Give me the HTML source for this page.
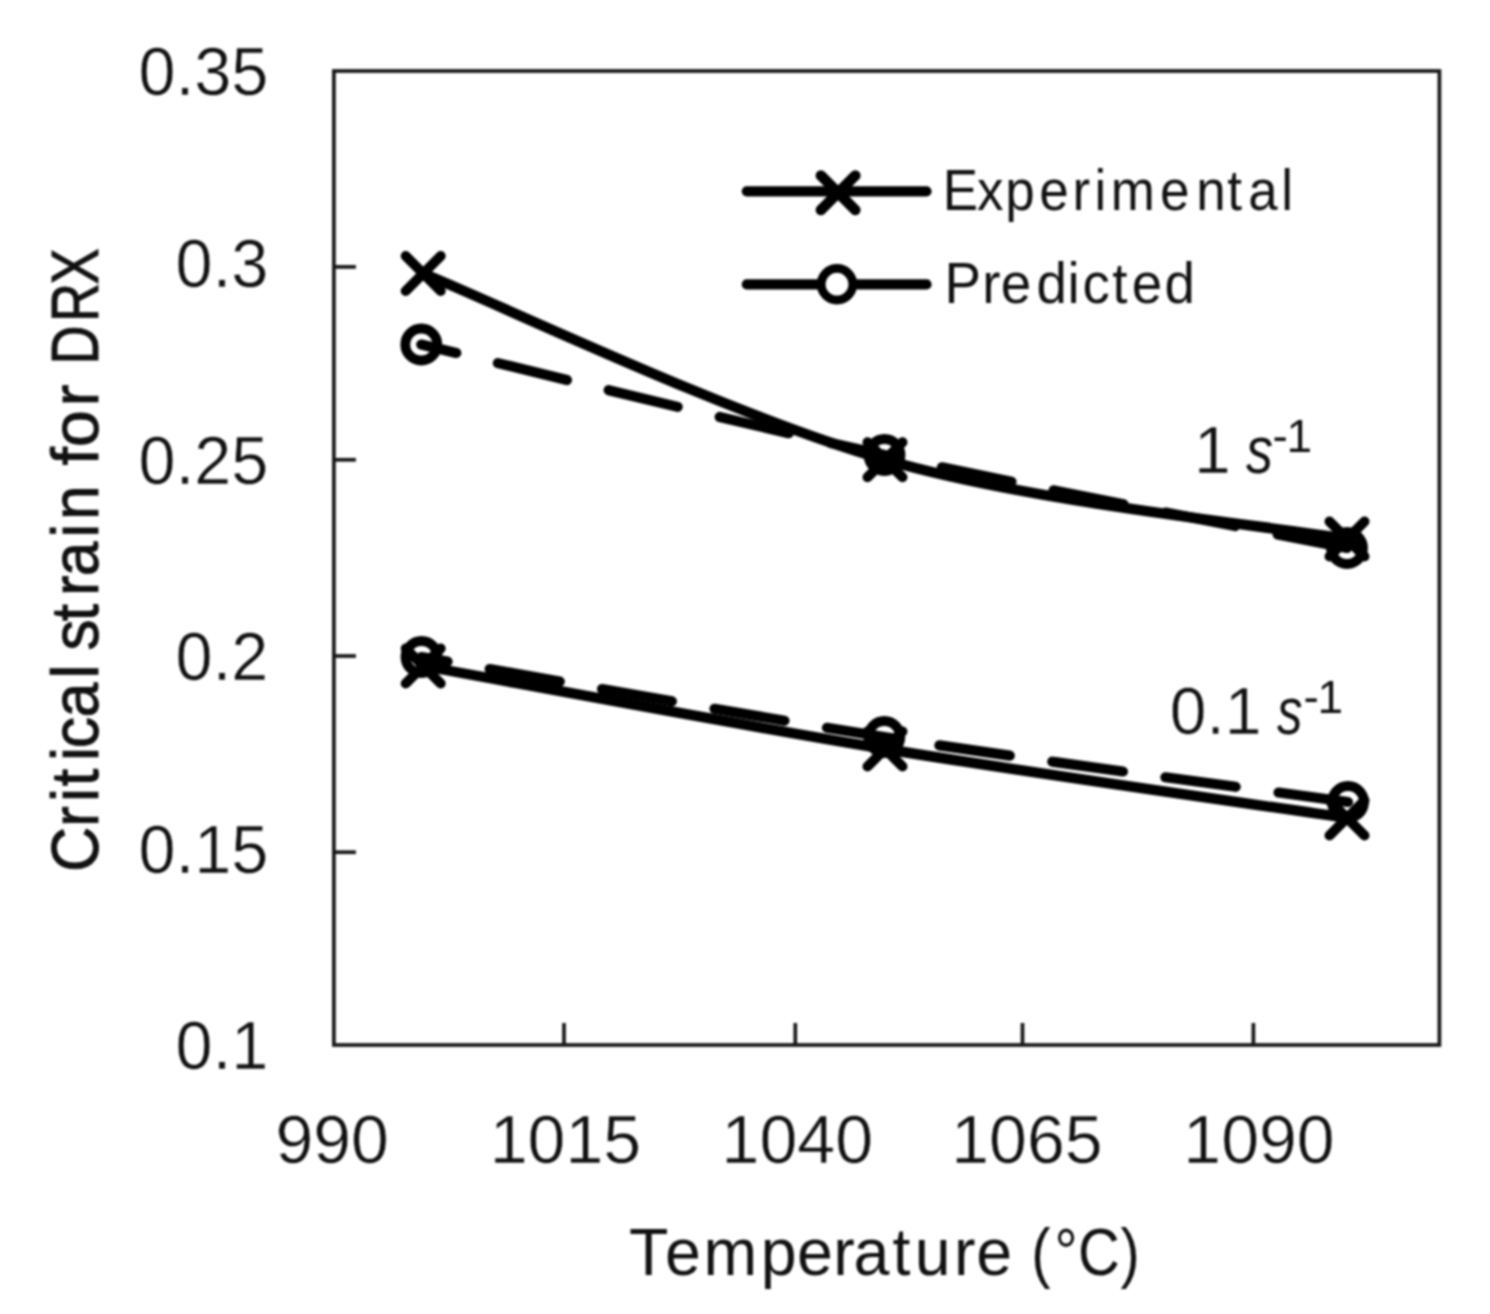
<!DOCTYPE html>
<html lang="en"><head><meta charset="utf-8"><title>Critical strain for DRX</title>
<style>html,body{margin:0;padding:0;background:#fff;overflow:hidden}svg{display:block;filter:blur(0.9px)}</style></head>
<body>
<svg width="1490" height="1314" viewBox="0 0 1490 1314">
<rect width="1490" height="1314" fill="#fff"/>
<g stroke="#161616" stroke-width="3.7" fill="none">
<rect x="333.9" y="71.0" width="1105.5" height="974.0"/>
<line x1="333.9" y1="266.9" x2="355.9" y2="266.9"/>
<line x1="333.9" y1="459.8" x2="355.9" y2="459.8"/>
<line x1="333.9" y1="656.0" x2="355.9" y2="656.0"/>
<line x1="333.9" y1="852.2" x2="355.9" y2="852.2"/>
<line x1="564.0" y1="1045.0" x2="564.0" y2="1023.0"/>
<line x1="795.3" y1="1045.0" x2="795.3" y2="1023.0"/>
<line x1="1022.5" y1="1045.0" x2="1022.5" y2="1023.0"/>
<line x1="1253.4" y1="1045.0" x2="1253.4" y2="1023.0"/>
</g>
<g stroke="#000" fill="none" stroke-width="10.4">
<path d="M423.2 273.5 C500.2 304.6 731.0 415.6 885.0 459.8 C1039.0 504.1 1270.0 525.8 1347.0 539.0"/>
<path d="M423.2 666.0 C500.2 679.8 731.0 723.7 885.0 749.0 C1039.0 774.3 1270.0 806.5 1347.0 818.0"/>
<path d="M421.3 344.5 C498.5 362.9 730.2 421.1 884.5 455.0 C1038.8 488.9 1269.9 532.5 1347.0 548.0" stroke-width="10.2" stroke-linecap="round" stroke-dasharray="71 43" stroke-dashoffset="35.0"/>
<path d="M421.5 657.0 C498.6 670.3 729.9 712.8 884.3 737.0 C1038.7 761.2 1270.7 791.2 1348.0 802.0" stroke-width="10.2" stroke-linecap="round" stroke-dasharray="71 43" stroke-dashoffset="44.5"/>
</g>
<path d="M405.7 256.0 L440.7 291.0 M405.7 291.0 L440.7 256.0" stroke="#000" stroke-width="10.0" stroke-linecap="round" fill="none"/>
<path d="M867.5 442.3 L902.5 477.3 M867.5 477.3 L902.5 442.3" stroke="#000" stroke-width="10.0" stroke-linecap="round" fill="none"/>
<path d="M1329.5 521.5 L1364.5 556.5 M1329.5 556.5 L1364.5 521.5" stroke="#000" stroke-width="10.0" stroke-linecap="round" fill="none"/>
<path d="M405.7 648.5 L440.7 683.5 M405.7 683.5 L440.7 648.5" stroke="#000" stroke-width="10.0" stroke-linecap="round" fill="none"/>
<path d="M867.5 731.5 L902.5 766.5 M867.5 766.5 L902.5 731.5" stroke="#000" stroke-width="10.0" stroke-linecap="round" fill="none"/>
<path d="M1329.5 800.5 L1364.5 835.5 M1329.5 835.5 L1364.5 800.5" stroke="#000" stroke-width="10.0" stroke-linecap="round" fill="none"/>
<circle cx="421.3" cy="344.5" r="16.0" stroke="#000" stroke-width="9.8" fill="none"/>
<circle cx="884.5" cy="455.0" r="16.0" stroke="#000" stroke-width="9.8" fill="none"/>
<circle cx="1347.0" cy="548.0" r="16.0" stroke="#000" stroke-width="9.8" fill="none"/>
<circle cx="421.5" cy="657.0" r="16.0" stroke="#000" stroke-width="9.8" fill="none"/>
<circle cx="884.3" cy="737.0" r="16.0" stroke="#000" stroke-width="9.8" fill="none"/>
<circle cx="1348.0" cy="802.0" r="16.0" stroke="#000" stroke-width="9.8" fill="none"/>
<g stroke="#000" stroke-width="10.2" stroke-linecap="round"><line x1="746.8" y1="191.3" x2="926.5" y2="191.3"/><line x1="746.8" y1="284.4" x2="926.5" y2="284.4"/></g>
<path d="M820.9 175.6 L855.3 210.0 M820.9 210.0 L855.3 175.6" stroke="#000" stroke-width="10.6" stroke-linecap="round" fill="none"/>
<circle cx="837.0" cy="284.2" r="15.8" stroke="#000" stroke-width="8.8" fill="#fff"/>
<g font-family="'Liberation Sans', sans-serif" fill="#111">
<text x="268.2" y="94.7" font-size="67.6" text-anchor="end" textLength="129.6" lengthAdjust="spacingAndGlyphs" stroke="#fff" stroke-width="0.6">0.35</text>
<text x="268.2" y="287.1" font-size="67.6" text-anchor="end" textLength="92.6" lengthAdjust="spacingAndGlyphs" stroke="#fff" stroke-width="0.6">0.3</text>
<text x="268.2" y="483.5" font-size="67.6" text-anchor="end" textLength="129.6" lengthAdjust="spacingAndGlyphs" stroke="#fff" stroke-width="0.6">0.25</text>
<text x="268.2" y="679.5" font-size="67.6" text-anchor="end" textLength="92.6" lengthAdjust="spacingAndGlyphs" stroke="#fff" stroke-width="0.6">0.2</text>
<text x="268.2" y="872.8" font-size="67.6" text-anchor="end" textLength="129.6" lengthAdjust="spacingAndGlyphs" stroke="#fff" stroke-width="0.6">0.15</text>
<text x="268.2" y="1068.8" font-size="67.6" text-anchor="end" textLength="92.6" lengthAdjust="spacingAndGlyphs" stroke="#fff" stroke-width="0.6">0.1</text>
<text x="332.2" y="1162.9" font-size="69.3" text-anchor="middle" textLength="113.5" lengthAdjust="spacingAndGlyphs" stroke="#fff" stroke-width="0.6">990</text>
<text x="565.4" y="1162.9" font-size="69.3" text-anchor="middle" textLength="151.4" lengthAdjust="spacingAndGlyphs" stroke="#fff" stroke-width="0.6">1015</text>
<text x="797.3" y="1162.9" font-size="69.3" text-anchor="middle" textLength="151.4" lengthAdjust="spacingAndGlyphs" stroke="#fff" stroke-width="0.6">1040</text>
<text x="1026.9" y="1162.9" font-size="69.3" text-anchor="middle" textLength="151.4" lengthAdjust="spacingAndGlyphs" stroke="#fff" stroke-width="0.6">1065</text>
<text x="1259.0" y="1162.9" font-size="69.3" text-anchor="middle" textLength="151.4" lengthAdjust="spacingAndGlyphs" stroke="#fff" stroke-width="0.6">1090</text>
<text x="648.4 685.6 725.3 784.2 821.7 858.9 879.9 920.0 943.0 983.6 1006.5" y="1274.9" font-size="66.5" transform="scale(0.970 1)">Temperature</text>
<text x="1185.4 1212.1 1239.2 1288.0" y="1274.9" font-size="66.5" transform="scale(0.870 1)">(°C)</text>
<g transform="translate(98.3 900.0) rotate(-90)" stroke="#111" stroke-width="0.9">
<text x="29.5 76.8 103.2 119.7 146.3 159.8 192.0 233.2" y="0.0" font-size="66.0" transform="scale(0.950 1)">Critical</text>
<text x="265.4 296.5 323.4 344.5 385.7 404.2" y="0.0" font-size="66.0" transform="scale(0.940 1)">strain</text>
<text x="434.4 452.9 493.6" y="0.0" font-size="66.0">for</text>
<text x="653.2 704.9 750.6" y="0.0" font-size="66.0" transform="scale(0.820 1)">DRX</text>
</g>
<text x="1013.8 1050.5 1080.8 1117.4 1153.2 1176.9 1194.3 1247.3 1286.3 1319.7 1342.1 1377.7" y="209.6" font-size="57.0" transform="scale(0.930 1)">Experimental</text>
<text x="983.9 1023.2 1042.4 1079.8 1111.9 1127.6 1158.7 1178.8 1213.0" y="302.6" font-size="57.0" transform="scale(0.960 1)">Predicted</text>
<text x="1194.0" y="472.6" font-size="66.0" stroke="#fff" stroke-width="0.6">1</text>
<text x="1246.0" y="472.6" font-size="66.0" font-style="italic" textLength="27" lengthAdjust="spacingAndGlyphs">s</text>
<text x="1272.5" y="452.0" font-size="46.0">-</text>
<text x="1286.5" y="452.0" font-size="46.0">1</text>
<text x="1169.8" y="734.0" font-size="66.0" stroke="#fff" stroke-width="0.6">0.1</text>
<text x="1277.0" y="734.0" font-size="66.0" font-style="italic" textLength="25.5" lengthAdjust="spacingAndGlyphs">s</text>
<text x="1303.5" y="713.0" font-size="46.0">-</text>
<text x="1317.5" y="713.0" font-size="46.0">1</text>
</g>
</svg>
</body></html>
